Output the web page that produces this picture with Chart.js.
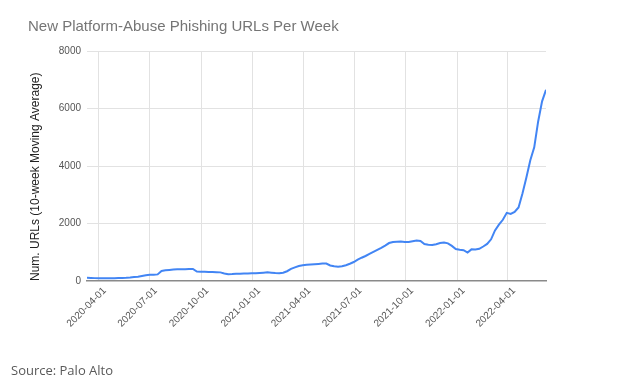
<!DOCTYPE html>
<html>
<head>
<meta charset="utf-8">
<script src="https://cdn.jsdelivr.net/npm/chart.js@4.4.1/dist/chart.umd.min.js"></script>
<style>
  html, body { margin: 0; padding: 0; background: #fff; }
  #wrap { position: relative; width: 624px; height: 382px; }
  #source { position: absolute; left: 11px; top: 361px; font-family: "Open Sans", sans-serif; font-size: 13px; color: #595959; }
</style>
</head>
<body>
<div id="wrap">
  <canvas id="chart" width="624" height="382"></canvas>
  <div id="source">Source: Palo Alto</div>
</div>
<script>
// Adatok: heti értékek (10 hetes mozgóátlag), első hét dátuma
const firstWeek = '2020-03-11';
const weeklyUrls = [
  110, 105, 100, 95, 95, 100, 100, 100, 105, 105,
  110, 120, 135, 150, 175, 200, 215, 220, 230, 350,
  370, 385, 400, 405, 410, 410, 415, 420, 330, 325,
  320, 315, 310, 305, 300, 260, 235, 240, 250, 255,
  260, 265, 268, 270, 280, 290, 300, 290, 275, 270,
  290, 340, 420, 475, 520, 545, 565, 578, 585, 595,
  605, 605, 540, 510, 500, 515, 550, 600, 660, 740,
  810, 870, 940, 1010, 1080, 1150, 1230, 1320, 1355, 1365,
  1370, 1355, 1360, 1385, 1405, 1390, 1285, 1260, 1250, 1280,
  1320, 1335, 1310, 1220, 1110, 1085, 1070, 990, 1100, 1095,
  1120, 1200, 1290, 1450, 1760, 1960, 2130, 2370, 2330, 2400,
  2560, 3040, 3600, 4200, 4650, 5550, 6250, 6650
];
const tickLabels = ['2020-04-01', '2020-07-01', '2020-10-01', '2021-01-01', '2021-04-01',
                    '2021-07-01', '2021-10-01', '2022-01-01', '2022-04-01'];
const yTicks = [0, 2000, 4000, 6000, 8000];

const DAY = 86400000;
const toDay = s => Date.parse(s) / DAY;
const start = toDay(firstWeek);
const tickDays = tickLabels.map(toDay);
const points = weeklyUrls.map((v, i) => ({ x: start + i * 7, y: v }));

const font = { family: '"Liberation Sans", Arial, sans-serif' };

new Chart(document.getElementById('chart').getContext('2d'), {
  type: 'line',
  data: {
    datasets: [{
      data: points,
      borderColor: '#4285f4',
      borderWidth: 2,
      pointRadius: 0,
      tension: 0,
      fill: false
    }]
  },
  options: {
    responsive: false,
    animation: false,
    layout: { padding: { left: 28, right: 78, top: 0, bottom: 45 } },
    plugins: {
      legend: { display: false },
      tooltip: { enabled: false },
      title: {
        display: true,
        text: 'New Platform-Abuse Phishing URLs Per Week',
        align: 'start',
        color: '#757575',
        font: { ...font, size: 15, weight: 'normal' },
        padding: { top: 18, bottom: 15 }
      }
    },
    scales: {
      x: {
        type: 'linear',
        min: start,
        max: start + (weeklyUrls.length - 1) * 7,
        afterBuildTicks: s => { s.ticks = tickDays.map(v => ({ value: v })); },
        afterFit: s => { s.height = 56; },
        grid: { color: '#e2e2e2', drawTicks: false },
        border: { color: '#8a8a8a', width: 1.5 },
        ticks: {
          autoSkip: false,
          minRotation: 45,
          maxRotation: 45,
          padding: 4,
          labelOffset: 6,
          color: '#555',
          font: { ...font, size: 10 },
          callback: v => tickLabels[tickDays.indexOf(v)] ?? ''
        }
      },
      y: {
        min: 0,
        max: 8000,
        afterBuildTicks: s => { s.ticks = yTicks.map(v => ({ value: v })); },
        afterFit: s => { s.width = 59; },
        grid: { color: c => c.tick.value === 0 ? 'rgba(0,0,0,0)' : '#e2e2e2', drawTicks: false },
        border: { display: false },
        ticks: { color: '#555', padding: 6, font: { ...font, size: 10 }, callback: v => String(v) },
        title: {
          display: true,
          text: 'Num. URLs (10-week Moving Average)',
          align: 'start',
          color: '#222',
          font: { ...font, size: 12 },
          padding: 0
        }
      }
    }
  }
});
</script>
</body>
</html>
